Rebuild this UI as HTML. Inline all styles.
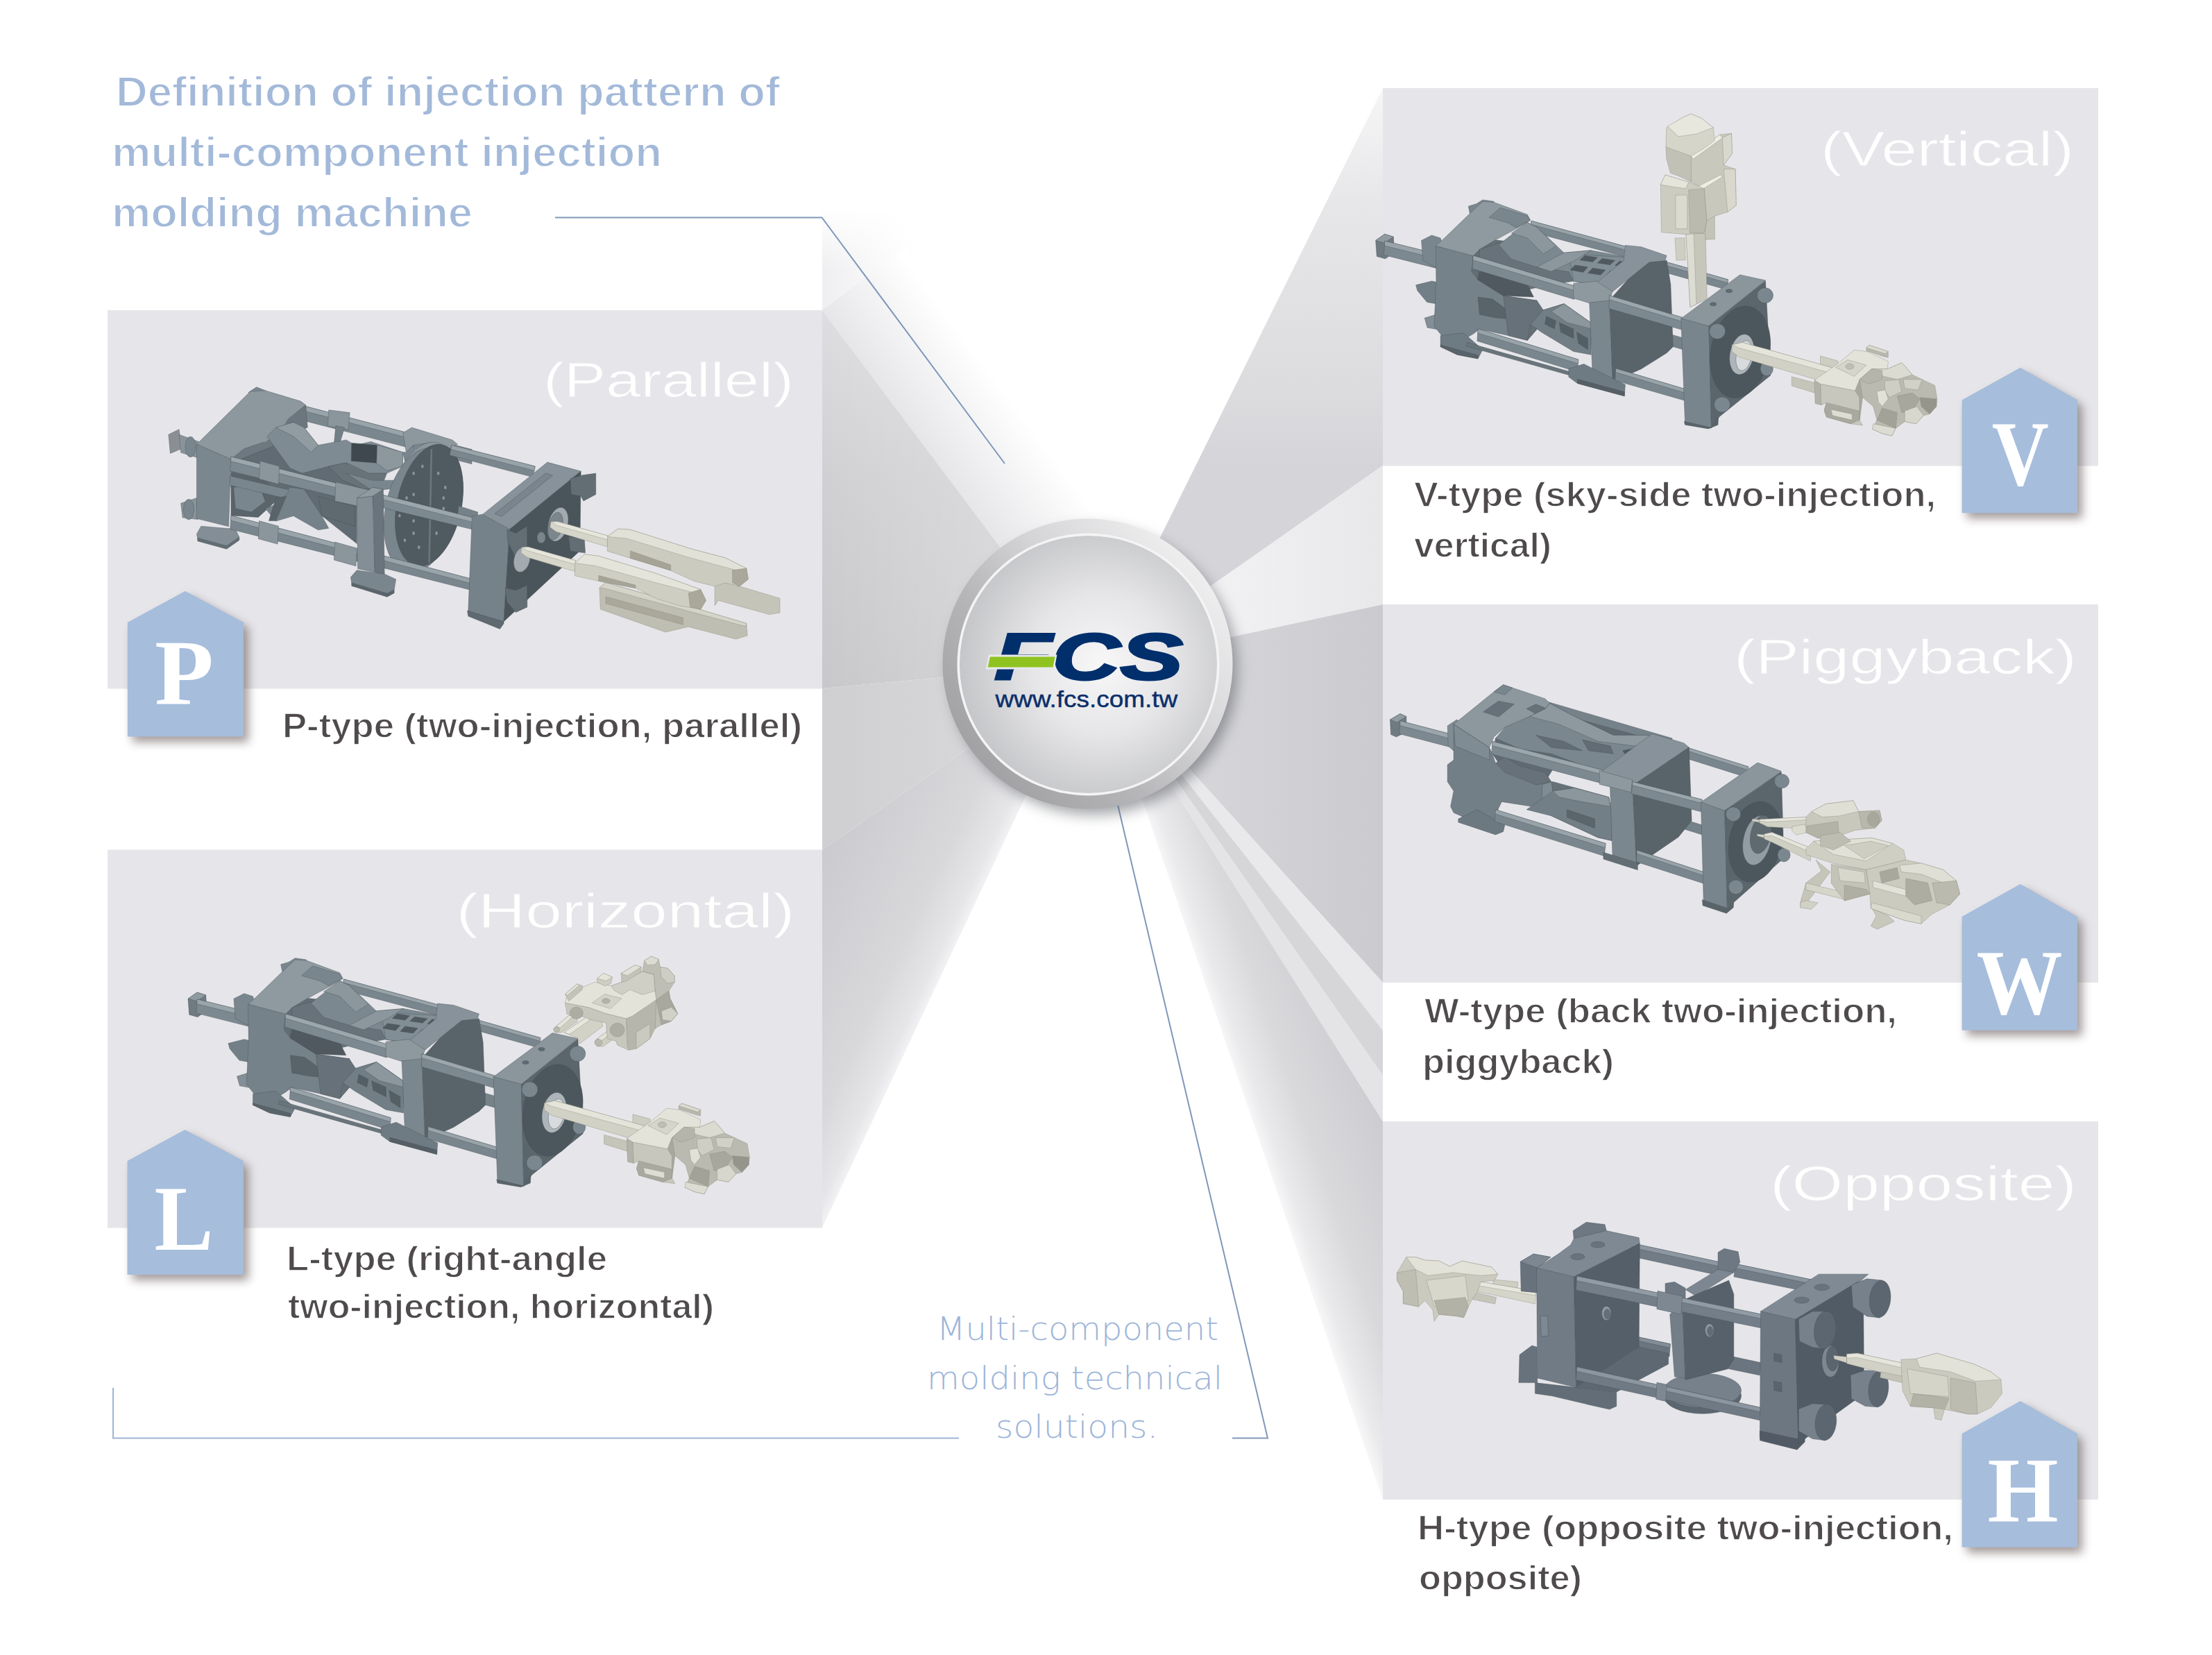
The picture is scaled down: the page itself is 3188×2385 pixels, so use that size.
<!DOCTYPE html>
<html lang="en"><head><meta charset="utf-8"><title>Definition of injection pattern of multi-component injection molding machine</title>
<style>
html,body{margin:0;padding:0;background:#fff}
body{width:3188px;height:2385px;overflow:hidden}
svg{display:block}
.sans{font-family:"Liberation Sans",sans-serif}
.serif{font-family:"Liberation Serif",serif}
.m polygon,.m ellipse{stroke:#465056;stroke-width:.8;stroke-opacity:.5;vector-effect:non-scaling-stroke;stroke-linejoin:round}
.m .c{stroke:#8a897c}
.m .nd{stroke:none}
.thin{font-family:"DejaVu Sans","Liberation Sans",sans-serif;font-weight:200}
</style></head><body>
<svg width="3188" height="2385" viewBox="0 0 3188 2385">
<defs>
<linearGradient id="wP0" x1="1185" y1="447" x2="1297" y2="363" gradientUnits="userSpaceOnUse">
 <stop offset="0" stop-color="#e6e6e9"/><stop offset="1" stop-color="#ffffff"/>
</linearGradient>
<linearGradient id="wP1" x1="1185" y1="0" x2="1320" y2="0" gradientUnits="userSpaceOnUse">
 <stop offset="0" stop-color="#efeff1"/><stop offset="1" stop-color="#ffffff"/>
</linearGradient>
<linearGradient id="wP1m" x1="0" y1="300" x2="0" y2="447" gradientUnits="userSpaceOnUse">
 <stop offset="0" stop-color="#fff" stop-opacity="1"/><stop offset="0.6" stop-color="#fff" stop-opacity="0"/>
</linearGradient>
<linearGradient id="wP" x1="1185" y1="447" x2="1185" y2="992" gradientUnits="userSpaceOnUse">
 <stop offset="0" stop-color="#dedee1"/><stop offset="0.45" stop-color="#d0d0d3"/><stop offset="1" stop-color="#c8c8cb"/>
</linearGradient>
<linearGradient id="liteL" x1="1185" y1="0" x2="1568" y2="0" gradientUnits="userSpaceOnUse">
 <stop offset="0" stop-color="#fff" stop-opacity="0"/><stop offset="1" stop-color="#fff" stop-opacity="0.35"/>
</linearGradient>
<linearGradient id="liteR" x1="1993" y1="0" x2="1580" y2="0" gradientUnits="userSpaceOnUse">
 <stop offset="0" stop-color="#fff" stop-opacity="0"/><stop offset="1" stop-color="#fff" stop-opacity="0.35"/>
</linearGradient>
<linearGradient id="wPL" x1="1185" y1="0" x2="1568" y2="0" gradientUnits="userSpaceOnUse">
 <stop offset="0" stop-color="#cfcfd2"/><stop offset="1" stop-color="#dddde0"/>
</linearGradient>
<linearGradient id="wL" x1="1185" y1="1225" x2="1395" y2="1324" gradientUnits="userSpaceOnUse">
 <stop offset="0" stop-color="#cbcbcf"/><stop offset="0.7" stop-color="#d8d8db"/><stop offset="0.93" stop-color="#e6e6e9"/><stop offset="1" stop-color="#f2f2f4"/>
</linearGradient>
<linearGradient id="wV" x1="1993" y1="127" x2="1993" y2="671" gradientUnits="userSpaceOnUse">
 <stop offset="0" stop-color="#f6f6f7"/><stop offset="0.3" stop-color="#e7e7e9"/><stop offset="0.8" stop-color="#dcdcdf"/><stop offset="1" stop-color="#d5d5d9"/>
</linearGradient>
<linearGradient id="wVW" x1="1580" y1="0" x2="1993" y2="0" gradientUnits="userSpaceOnUse">
 <stop offset="0" stop-color="#f8f8f9"/><stop offset="1" stop-color="#e8e8ea"/>
</linearGradient>
<linearGradient id="wW" x1="1580" y1="0" x2="1993" y2="0" gradientUnits="userSpaceOnUse">
 <stop offset="0" stop-color="#dcdcdf"/><stop offset="1" stop-color="#cbcbcf"/>
</linearGradient>
<linearGradient id="wWH" x1="1580" y1="0" x2="1993" y2="0" gradientUnits="userSpaceOnUse">
 <stop offset="0" stop-color="#f0f0f2"/><stop offset="1" stop-color="#dedee1"/>
</linearGradient>
<linearGradient id="wH" x1="1993" y1="1616" x2="1826" y2="1674" gradientUnits="userSpaceOnUse">
 <stop offset="0" stop-color="#cdcdd1"/><stop offset="0.6" stop-color="#d9d9dc"/><stop offset="0.9" stop-color="#eaeaec"/><stop offset="1" stop-color="#f6f6f7"/>
</linearGradient>
<linearGradient id="ringG" x1="0.1" y1="0.85" x2="0.9" y2="0.15">
 <stop offset="0" stop-color="#a0a0a2"/><stop offset="0.35" stop-color="#b6b6b8"/><stop offset="0.62" stop-color="#d4d4d6"/><stop offset="1" stop-color="#f0f0f1"/>
</linearGradient>
<radialGradient id="faceG" cx="0.55" cy="0.5" r="0.6">
 <stop offset="0" stop-color="#f7f7f8"/><stop offset="0.45" stop-color="#e6e6e8"/><stop offset="1" stop-color="#bfc0c3"/>
</radialGradient>
<filter id="sh" x="-30%" y="-30%" width="170%" height="170%">
 <feGaussianBlur in="SourceAlpha" stdDeviation="7"/><feOffset dx="7" dy="8"/><feComponentTransfer><feFuncA type="linear" slope="0.55"/></feComponentTransfer>
 <feFlood flood-color="#5a4a48" result="c"/><feComposite in="c" in2="SourceAlpha" operator="in"/>
</filter>
<filter id="shB" x="-30%" y="-30%" width="170%" height="170%">
 <feGaussianBlur stdDeviation="7"/>
</filter>
<filter id="shC" x="-30%" y="-30%" width="160%" height="160%">
 <feGaussianBlur stdDeviation="10"/>
</filter>
<!--CLAMPA-->
<g id="clampA" class="m" transform="translate(260,1360) scale(0.22963)">
<!-- ===== left frame ===== -->
<g>
<!-- top-left long bar + cap -->
<polygon points="48,345 105,305 160,322 165,420 108,460 55,445" fill="#6f7a82"/>
<polygon points="48,345 105,305 160,322 105,360" fill="#8f9aa1"/>
<polygon points="105,348 445,432 440,522 100,436" fill="#7d8990"/>
<polygon points="105,348 445,432 443,462 104,378" fill="#99a4ab"/>
<polygon points="335,345 400,312 455,330 470,380 440,520 395,500 345,470" fill="#7a868e"/>
<!-- small gadget -->
<polygon points="300,625 400,600 490,620 500,765 440,745 370,732 310,660" fill="#737f87"/>
<!-- lower-left nub -->
<polygon points="355,832 420,812 445,905 372,892" fill="#838e96"/>
<!-- back-top bar -->
<polygon points="1025,222 1829,440 1829,505 1020,290" fill="#7a868e"/>
<polygon points="1025,222 1829,440 1829,462 1024,245" fill="#97a2a9"/>
<!-- rear platen top nubs -->
<polygon points="630,130 680,115 720,90 790,100 800,150 700,200 640,180" fill="#7a868e"/>
<!-- rear platen top face -->
<polygon points="425,380 480,330 640,175 720,100 790,105 1000,182 1020,218 930,272 800,342 700,402 660,442" fill="#8e99a0"/>
<polygon points="760,200 830,140 1000,190 1015,220 930,265 880,235" fill="#7a868e"/>
<!-- rear platen front face -->
<polygon points="425,380 660,442 650,540 690,592 850,692 1060,722 1075,800 1060,902 1000,972 880,942 700,902 660,932 560,992 470,952 415,882 428,600" fill="#76828a"/>
<polygon points="660,442 700,402 800,342 870,350 800,420 720,470 700,540 690,592 650,540" fill="#626d74"/>
<polygon points="690,700 780,712 900,800 910,840 800,830 700,810" fill="#59636a"/>
<polygon points="960,730 1060,722 1075,800 1060,902 1000,972 965,900" fill="#646f77"/>
<!-- foot block -->
<polygon points="455,942 600,925 720,1030 690,1087 560,1062 455,1012" fill="#6f7b83"/>
<polygon points="455,1000 690,1065 690,1087 560,1062 455,1012" fill="#59636a"/>
<!-- fillers -->
<polygon points="700,400 870,350 1000,235 1130,350 1200,430 1400,410 1440,620 1290,600 1060,640 850,692 690,592" fill="#67727a"/>
<polygon points="850,692 1060,722 1100,782 1230,742 1400,862 1400,1000 1290,1040 1020,872 1000,972 880,942" fill="#66717a"/>
<!-- upper toggle -->
<polygon points="820,372 1000,232 1060,262 1230,422 1400,407 1640,452 1700,482 1560,562 1440,622 1290,602 1260,542 1060,512 900,462" fill="#7c8890"/>
<polygon points="900,300 1000,232 1060,262 1180,380 1100,430 1000,330" fill="#8b969d"/>
<polygon points="1260,430 1640,452 1700,482 1560,562 1440,622 1290,602" fill="#828e96"/>
<g fill="#4f595f">
<polygon points="1360,440 1440,452 1410,480 1330,468"/>
<polygon points="1470,458 1550,470 1520,498 1440,486"/>
<polygon points="1580,474 1650,484 1620,512 1550,502"/>
<polygon points="1300,500 1380,512 1350,545 1270,530"/>
<polygon points="1410,518 1490,530 1460,562 1380,550"/>
<polygon points="1520,536 1590,546 1560,575 1490,566"/>
</g>
<polygon points="1060,512 1230,422 1400,407 1300,470 1150,540" fill="#8b969d"/>
<!-- mid dark cavity -->
<polygon points="700,540 900,560 1000,620 1040,700 850,692 690,592" fill="#4f595f"/>
<!-- lower toggle -->
<polygon points="1020,872 1100,782 1230,742 1400,862 1400,1062 1290,1042 1090,922" fill="#727e86"/>
<polygon points="1150,790 1230,742 1400,862 1400,900 1250,860" fill="#8b969d"/>
<g fill="#545e65">
<polygon points="1200,860 1290,900 1290,960 1210,920"/>
<polygon points="1310,920 1380,960 1380,1030 1320,990"/>
<polygon points="1120,820 1180,850 1170,900 1110,870"/>
</g>
<!-- thin rail -->
<polygon points="620,985 1300,1178 1295,1200 616,1008" fill="#69747b"/>
<!-- front-bottom bar -->
<polygon points="690,900 1320,1092 1315,1170 685,976" fill="#7a868d"/>
<polygon points="690,900 1320,1092 1318,1118 689,926" fill="#98a3aa"/>
<!-- front-top bar -->
<polygon points="660,440 1300,632 1295,715 655,522" fill="#7d8990"/>
<polygon points="660,440 1300,632 1298,660 659,468" fill="#9ba6ad"/>
</g>
<!-- ===== middle frame ===== -->
<g transform="translate(914.6,0)">
<!-- back-top bar right part -->
<polygon points="905,465 1345,590 1340,655 900,532" fill="#7a868e"/>
<polygon points="905,465 1345,590 1344,612 904,488" fill="#97a2a9"/>
<!-- back-bottom bar -->
<polygon points="935,920 1075,960 1070,1032 930,992" fill="#76828a"/>
<!-- moving platen -->
<polygon points="600,720 720,585 850,480 960,470 985,620 1000,1012 960,1052 800,1152 620,1232" fill="#59636a"/>
<polygon points="520,610 690,470 700,375 800,385 960,440 950,472 850,482 720,587 620,667" fill="#87929a"/>
<polygon points="375,615 520,600 620,665 600,732 470,737 375,707" fill="#8d989f"/>
<polygon points="475,735 600,722 620,1232 495,1196" fill="#7b878f"/>
<polygon points="345,1150 440,1120 700,1250 695,1322 400,1242 345,1202" fill="#6f7b83"/>
<polygon points="400,1215 695,1295 695,1322 400,1242" fill="#565f66"/>
<!-- front-top bar right part -->
<polygon points="600,690 1065,830 1060,907 598,772" fill="#7d8990"/>
<polygon points="600,690 1065,830 1064,856 600,716" fill="#9ba6ad"/>
<!-- front-bottom bar right part -->
<polygon points="640,1148 1085,1280 1080,1352 636,1224" fill="#7a868d"/>
<polygon points="640,1148 1085,1280 1084,1304 640,1172" fill="#98a3aa"/>
<!-- stationary platen -->
<polygon points="1050,835 1420,560 1580,595 1225,882" fill="#8a959c"/>
<polygon points="1050,835 1225,882 1240,1522 1075,1482" fill="#79858d"/>
<polygon points="1225,882 1580,598 1612,1192 1290,1452 1240,1522" fill="#5b656c"/>
<polygon points="1070,1480 1240,1520 1285,1452 1282,1502 1222,1527 1075,1502" fill="#59636a"/>
<ellipse cx="1352" cy="662" rx="20" ry="11" fill="#5e6970"/>
<ellipse cx="1252" cy="745" rx="20" ry="11" fill="#5e6970"/>
<ellipse cx="1422" cy="1045" rx="185" ry="292" transform="rotate(11 1422 1045)" fill="#4c565d"/>
<ellipse cx="1432" cy="1060" rx="75" ry="128" transform="rotate(11 1432 1060)" fill="#aeb5ba"/>
<ellipse cx="1445" cy="1068" rx="48" ry="95" transform="rotate(11 1445 1068)" fill="#d8dbdd"/>
<ellipse cx="1278" cy="915" rx="50" ry="48" fill="#7b878f"/>
<ellipse cx="1578" cy="690" rx="50" ry="48" fill="#7b878f"/>
<ellipse cx="1308" cy="1375" rx="50" ry="48" fill="#7b878f"/>
<ellipse cx="1588" cy="1150" rx="40" ry="45" fill="#7b878f"/>
</g>
</g>
<g id="injH" class="m">
<g transform="translate(260,1360) scale(0.22963) translate(1829.2,0)">
<polygon points="455,1000 520,985 1110,1150 1100,1252 500,1077 455,1042" fill="#d2d1c5" class="c"/>
<polygon points="455,1000 520,985 1110,1150 1105,1185 500,1020" fill="#e5e4da" class="c"/>
<polygon points="830,1200 980,1240 975,1302 830,1257" fill="#c6c5b9" class="c"/>
<polygon points="1010,1070 1120,1100 1115,1152 1010,1122" fill="#cecdc1" class="c"/>
</g>
<g transform="translate(860,1570) scale(0.1085)">
<!-- right assemblage -->
<polygon points="1000,640 1160,500 1370,500 1560,420 1600,460 1700,580 1830,640 2000,720 2030,900 2020,1000 1930,1100 1850,1120 1750,1230 1600,1200 1480,1290 1430,1390 1300,1360 1170,1300 1230,1180 1180,1000 1040,880 1000,880" fill="#bbbab0" class="c"/>
<polygon points="1160,500 1370,500 1560,420 1600,460 1700,580 1500,640 1320,600" fill="#dcdbd1" class="c"/>
<polygon points="1330,660 1520,640 1560,800 1400,880 1340,800" fill="#cfcec4" class="c"/>
<polygon points="1230,800 1340,780 1380,900 1300,1000 1250,940" fill="#e2e1d7" class="c"/>
<polygon points="1180,1230 1480,1290 1430,1390 1300,1360 1170,1300" fill="#dddcd2" class="c"/>
<polygon points="1580,640 1830,640 1780,780 1600,760" fill="#d2d1c7" class="c"/>
<polygon points="1800,880 2020,900 2020,1000 1930,1100 1820,1000" fill="#96958c" class="c"/>
<polygon points="1500,860 1700,820 1800,900 1700,1060 1560,1080" fill="#a8a79d" class="c"/>
<polygon points="1600,1060 1760,1000 1850,1120 1750,1230 1600,1200" fill="#d8d7cd" class="c"/>
<polygon points="1300,1020 1500,1080 1480,1290 1230,1180" fill="#a3a298" class="c"/>
<!-- top-back box -->
<polygon points="1090,220 1130,185 1380,270 1380,350 1330,340 1090,260" fill="#b9b8ae" class="c"/>
<polygon points="1090,220 1130,185 1380,270 1340,300" fill="#dad9cf" class="c"/>
<!-- main block -->
<polygon points="400,650 480,700 490,980 410,960" fill="#b4b3a9" class="c"/>
<polygon points="480,700 940,790 1000,880 1000,1180 1040,1250 880,1230 560,1140 530,1050 560,950 490,980" fill="#c8c7bd" class="c"/>
<polygon points="560,950 1000,1060 1000,1180 880,1230 560,1140 530,1050" fill="#aaa99f" class="c"/>
<polygon points="620,1040 900,1100 900,1180 640,1120" fill="#deddd3" class="c"/>
<polygon points="940,790 1000,640 1040,880 1000,1180 1000,880" fill="#a9a89e" class="c"/>
<polygon points="400,650 700,440 930,250 1100,270 1380,400 1370,500 1160,500 1000,640 940,790 480,700" fill="#e4e3d9" class="c"/>
<polygon points="680,480 840,380 1090,450 930,600" fill="#d6d5cb" class="c"/>
<ellipse cx="870" cy="468" rx="55" ry="38" fill="#bfbeb4" class="c"/>
<polygon points="1000,640 1160,500 1300,520 1300,640 1120,700" fill="#b6b5ab" class="c"/>
</g>
</g>
<!--/CLAMPA-->

</defs>
<rect width="3188" height="2385" fill="#fff"/>
<!-- middle band -->
<g id="mid">
<rect x="1185" y="300" width="135" height="147" fill="url(#wP1)"/>
<rect x="1185" y="300" width="135" height="147" fill="url(#wP1m)"/>
<polygon points="1185,447 1305,357 1688,867 1568,957" fill="url(#wP0)"/>
<polygon points="1185,447 1185,992 1568,957" fill="url(#wP)"/>
<polygon points="1185,447 1185,992 1568,957" fill="url(#liteL)"/>
<polygon points="1185,992 1185,1225 1568,957" fill="url(#wPL)"/>
<polygon points="1185,1225 1185,1769 1568,957" fill="url(#wL)"/>
<polygon points="1993,127 1993,671 1580,960" fill="url(#wV)"/>
<polygon points="1993,671 1993,871 1580,960" fill="url(#wVW)"/>
<polygon points="1993,871 1993,1416 1580,960" fill="url(#wW)"/>
<polygon points="1993,1416 1993,1485 1580,960" fill="#e9e9eb"/>
<polygon points="1993,1485 1993,1550 1580,960" fill="#d6d6d9"/>
<polygon points="1993,1550 1993,1616 1580,960" fill="#e4e4e7"/>
<polygon points="1993,1616 1993,2161 1580,960" fill="url(#wH)"/>
</g>
<!-- panels -->
<g fill="#e6e6ea">
<rect x="155" y="447" width="1030" height="545.5"/>
<rect x="155" y="1224.5" width="1030" height="545"/>
<rect x="1993" y="127" width="1031" height="544.5"/>
<rect x="1993" y="871" width="1031" height="545"/>
<rect x="1993" y="1616" width="1031" height="545"/>
</g>

<g id="mP" class="m" transform="translate(220,540) scale(0.25373)">
<!-- ===== PL frame ===== -->
<g>
<!-- left bar ends -->
<polygon points="90,340 150,310 165,420 100,447" fill="#8a8f94"/>
<polygon points="150,340 262,380 257,472 160,442" fill="#88939a"/>
<ellipse cx="215" cy="410" rx="30" ry="58" fill="#7a868e"/>
<polygon points="160,730 250,700 257,822 170,812" fill="#88939a"/>
<ellipse cx="205" cy="765" rx="30" ry="58" fill="#7a868e"/>
<polygon points="545,100 590,70 640,90 600,192 555,172" fill="#7a868e"/>
<!-- back-top bar -->
<polygon points="825,168 1813,425 1813,507 815,250" fill="#7b878e"/>
<polygon points="825,168 1813,425 1813,452 822,196" fill="#98a3aa"/>
<polygon points="1000,200 1120,215 1112,312 995,292" fill="#8a959c"/>
<polygon points="1040,290 1090,300 1060,400 1030,395" fill="#737f87"/>
<!-- rear platen -->
<polygon points="250,395 555,95 640,90 840,150 870,172 770,252 700,342 450,482" fill="#8c979e"/>
<polygon points="770,252 870,172 880,300 800,330 720,330" fill="#6b767e"/>
<polygon points="250,395 445,480 432,862 250,817" fill="#7b878f"/>
<polygon points="445,480 520,420 640,380 700,342 700,420 560,470 480,540 445,640" fill="#6d7880"/>
<polygon points="250,905 275,860 470,877 492,922 420,972 255,927" fill="#838e96"/>
<polygon points="255,927 420,972 492,922 492,940 420,990 255,945" fill="#626d74"/>
<!-- filler -->
<polygon points="450,500 700,400 900,460 1100,500 1300,640 1160,700 1160,960 960,800 790,640 640,760 450,780" fill="#606b73"/>
<!-- inner dark -->
<polygon points="445,560 640,600 720,700 600,810 445,800" fill="#5a646b"/>
<polygon points="460,640 600,610 640,720 560,780 470,760" fill="#7a868e"/>
<!-- mid thin bar -->
<polygon points="440,575 800,660 795,712 438,627" fill="#7a868e"/>
<!-- upper toggle -->
<polygon points="650,350 700,300 800,270 860,300 940,400 1100,370 1150,400 1240,380 1420,440 1420,520 1330,560 1230,560 1100,500 1000,520 850,560 780,530 700,420" fill="#7f8b93"/>
<polygon points="700,300 800,270 860,300 940,400 900,440 800,350" fill="#909ba2"/>
<polygon points="1130,388 1275,400 1272,502 1128,490" fill="#3f484e"/>
<polygon points="1275,400 1420,440 1420,520 1330,545 1272,502" fill="#8c979e"/>
<polygon points="1000,520 1100,500 1230,560 1330,560 1300,640 1200,650 1080,600" fill="#687379"/>
<!-- lower toggle -->
<polygon points="640,760 720,730 790,640 860,650 960,800 1000,872 940,882 800,802 700,832" fill="#76828a"/>
<polygon points="940,690 1150,750 1150,862 960,802" fill="#5e6970"/>
<polygon points="700,700 760,690 700,830 660,830" fill="#59636a"/>
<!-- turntable back platen top -->
<polygon points="1422,330 1472,300 1702,370 1732,395 1682,420 1582,385 1482,400 1440,440" fill="#8c979e"/>
<polygon points="1100,560 1250,600 1400,600 1440,520 1420,440 1440,440 1482,400 1500,520 1420,640 1250,660" fill="#7a868e"/>
</g>
<!-- ===== PM frame ===== -->
<g transform="translate(1182.4,0)">
<!-- turntable -->
<ellipse cx="355" cy="745" rx="195" ry="368" transform="rotate(12 355 745)" fill="#8a959c"/>
<ellipse cx="352" cy="760" rx="190" ry="350" transform="rotate(12 352 760)" fill="#5f6a71"/>
<ellipse cx="388" cy="742" rx="183" ry="352" transform="rotate(12 388 742)" fill="#505a61"/>
<ellipse cx="340" cy="770" rx="200" ry="360" transform="rotate(12 340 770)" fill="#7a868e"/>
<ellipse cx="388" cy="742" rx="183" ry="352" transform="rotate(12 388 742)" fill="#505a61"/>
<polygon points="395,420 408,422 395,1070 382,1068" fill="#6b767e"/>
<ellipse cx="300" cy="560" rx="7" ry="10" fill="#8a959c" class="nd"/>
<ellipse cx="350" cy="520" rx="7" ry="10" fill="#8a959c" class="nd"/>
<ellipse cx="440" cy="560" rx="7" ry="10" fill="#8a959c" class="nd"/>
<ellipse cx="480" cy="640" rx="7" ry="10" fill="#8a959c" class="nd"/>
<ellipse cx="300" cy="680" rx="7" ry="10" fill="#8a959c" class="nd"/>
<ellipse cx="300" cy="830" rx="7" ry="10" fill="#8a959c" class="nd"/>
<ellipse cx="300" cy="900" rx="7" ry="10" fill="#8a959c" class="nd"/>
<ellipse cx="470" cy="700" rx="7" ry="10" fill="#8a959c" class="nd"/>
<ellipse cx="470" cy="760" rx="7" ry="10" fill="#8a959c" class="nd"/>
<ellipse cx="250" cy="940" rx="7" ry="10" fill="#8a959c" class="nd"/>
<ellipse cx="330" cy="980" rx="7" ry="10" fill="#8a959c" class="nd"/>
<ellipse cx="430" cy="900" rx="7" ry="10" fill="#8a959c" class="nd"/>
<ellipse cx="500" cy="830" rx="7" ry="10" fill="#8a959c" class="nd"/>
<ellipse cx="220" cy="800" rx="7" ry="10" fill="#8a959c" class="nd"/>
<ellipse cx="260" cy="700" rx="7" ry="10" fill="#8a959c" class="nd"/>

<!-- back bars right -->
<polygon points="515,400 990,520 978,582 505,457" fill="#7b878e"/>
<polygon points="515,400 990,520 986,545 512,424" fill="#98a3aa"/>
<polygon points="555,745 665,780 660,832 550,802" fill="#76828a"/>
</g>
<g>
<!-- front-top bar full -->
<polygon points="445,465 1832,815 1822,880 440,547" fill="#7d8990"/>
<polygon points="445,465 1832,815 1830,840 444,492" fill="#9ba6ad"/>
<polygon points="610,490 720,520 715,622 605,592" fill="#8a959c"/>
<polygon points="1040,610 1250,660 1240,762 1035,717" fill="#8a959c"/>
<!-- front-bottom bar full -->
<polygon points="445,800 1812,1160 1802,1222 440,877" fill="#7a868d"/>
<polygon points="445,800 1812,1160 1810,1186 444,828" fill="#98a3aa"/>
<polygon points="605,830 715,860 710,962 600,932" fill="#8a959c"/>
<polygon points="1035,950 1160,985 1155,1087 1030,1052" fill="#8a959c"/>
<!-- moving platen column -->
<polygon points="1160,700 1250,690 1262,1122 1165,1102" fill="#838e96"/>
<polygon points="1250,640 1310,650 1317,1142 1262,1122" fill="#69747c"/>
<polygon points="1160,700 1250,640 1310,650 1250,690" fill="#8f9aa1"/>
<polygon points="1125,1150 1160,1110 1317,1132 1382,1162 1372,1222 1332,1242 1130,1182" fill="#7a868e"/>
<polygon points="1130,1182 1332,1242 1372,1222 1372,1240 1332,1262 1130,1200" fill="#59636a"/>
</g>
<g transform="translate(1182.4,0)">
<!-- stationary platen -->
<polygon points="690,795 1060,497 1250,548 845,878" fill="#87929a"/>
<polygon points="760,790 1050,560 1090,572 800,805" fill="#7a858d"/>
<polygon points="632,803 690,793 845,878 812,1402 610,1345" fill="#76828a"/>
<polygon points="605,1340 812,1402 812,1414 790,1444 610,1372" fill="#5e6970"/>
<polygon points="845,878 1250,548 1245,1000 812,1402" fill="#4a545b"/>
<polygon points="1190,590 1260,570 1335,560 1335,680 1265,717 1250,690 1195,680" fill="#626d74"/>
<polygon points="830,880 880,900 945,860 945,1000 880,1040 835,950" fill="#626d74"/>
<polygon points="1180,920 1270,930 1275,1012 1190,1002" fill="#626d74"/>
<polygon points="820,1210 880,1225 945,1195 945,1320 880,1350 830,1290" fill="#626d74"/>
<ellipse cx="1120" cy="850" rx="55" ry="98" transform="rotate(14 1120 850)" fill="#a3abb0"/>
<ellipse cx="1105" cy="860" rx="40" ry="80" transform="rotate(14 1105 860)" fill="#7c868d"/>
<ellipse cx="915" cy="1050" rx="45" ry="72" transform="rotate(14 915 1050)" fill="#a3abb0"/>
<ellipse cx="1025" cy="925" rx="24" ry="32" fill="#79858c"/>
<!-- rods -->
<polygon points="1080,835 1120,835 1405,915 1400,977 1110,892 1075,866" fill="#d6d5c9" class="c"/>
<polygon points="1080,835 1120,835 1405,915 1403,938 1112,856" fill="#e7e6dc" class="c"/>
<polygon points="915,980 950,978 1220,1055 1215,1117 945,1037 910,1011" fill="#d6d5c9" class="c"/>
<polygon points="915,980 950,978 1220,1055 1218,1078 947,1000" fill="#e7e6dc" class="c"/>
</g>
<!-- ===== PR frame ===== -->
<g transform="translate(1813,0)">
<polygon points="1380,1190 1450,1180 1750,1270 1750,1352 1690,1362 1400,1282 1380,1312" fill="#c5c4b8" class="c"/>
<polygon points="770,920 830,875 900,880 1250,990 1440,1040 1560,1100 1570,1162 1520,1202 1440,1182 1380,1202 1260,1172 1130,1112 900,1042 770,1002" fill="#cccbbf" class="c"/>
<polygon points="770,920 830,875 900,880 1250,990 1440,1040 1560,1100 1500,1110 1240,1040 880,930" fill="#e2e1d7" class="c"/>
<polygon points="900,1000 1130,1080 1130,1112 900,1042" fill="#a5a497" class="c"/>
<polygon points="1480,1110 1560,1100 1570,1162 1520,1202 1480,1180" fill="#a9a89b" class="c"/>
<polygon points="725,1210 760,1180 1250,1320 1560,1412 1565,1482 1500,1502 1230,1432 1100,1462 730,1332" fill="#bfbeb2" class="c"/>
<polygon points="725,1210 760,1180 1250,1320 1560,1412 1555,1430 1240,1345 760,1215" fill="#d5d4c9" class="c"/>
<polygon points="760,1260 1200,1380 1200,1420 760,1300" fill="#a9a89b" class="c"/>
<polygon points="585,1070 640,1020 720,1030 1050,1130 1300,1220 1330,1282 1300,1332 1180,1312 1050,1272 930,1212 720,1172 585,1142" fill="#cfcec2" class="c"/>
<polygon points="585,1070 640,1020 720,1030 1050,1130 1300,1220 1250,1235 1040,1180 700,1085" fill="#e5e4da" class="c"/>
<polygon points="720,1140 930,1195 930,1212 720,1172" fill="#a5a497" class="c"/>
<polygon points="1230,1240 1300,1220 1330,1282 1300,1332 1240,1320" fill="#a9a89b" class="c"/>
</g>
</g>
<use href="#clampA"/>
<use href="#injH"/>
<g id="mLtop" class="m" transform="translate(790,1370) scale(0.09062)">
<!-- far-right motor assembly -->
<polygon points="1500,330 1530,160 1640,90 1760,140 1780,260 1900,280 2010,400 2010,500 1920,640 1940,760 2060,1000 1960,1120 1800,1180 1700,1240 1720,780 1700,640 1680,380" fill="#bfbeb4" class="c"/>
<polygon points="1530,160 1640,90 1760,140 1700,220 1580,230" fill="#dddcd2" class="c"/>
<polygon points="1780,260 1900,280 2010,400 2010,500 1900,520 1800,420" fill="#cfcec4" class="c"/>
<polygon points="1720,780 1920,640 1940,760 2060,1000 1960,1120 1800,1180" fill="#a9a89e" class="c"/>
<polygon points="1800,960 1960,900 2060,1000 1960,1120 1820,1100" fill="#d2d1c7" class="c"/>
<!-- rods -->
<polygon points="90,1240 130,1200 330,1030 450,1050 470,1122 210,1302 110,1302" fill="#cfcec2" class="c"/>
<polygon points="130,1200 330,1030 400,1040 190,1230" fill="#e5e4da" class="c"/>
<ellipse cx="135" cy="1255" rx="50" ry="42" fill="#bab9af" class="c"/>
<polygon points="250,1300 640,1040 820,1060 872,1200 500,1482 470,1390" fill="#d3d2c6" class="c"/>
<polygon points="250,1300 640,1040 740,1050 340,1330" fill="#e8e7dd" class="c"/>
<polygon points="740,1440 780,1400 1010,1230 1120,1260 1132,1332 880,1522 780,1522" fill="#cfcec2" class="c"/>
<polygon points="780,1400 1010,1230 1080,1250 850,1430" fill="#e5e4da" class="c"/>
<ellipse cx="800" cy="1462" rx="60" ry="55" fill="#bab9af" class="c"/>
<!-- body -->
<polygon points="1240,1080 1340,1040 1720,780 1700,1240 1620,1400 1400,1560 1280,1582 1260,1500" fill="#b7b6ac" class="c"/>
<polygon points="1400,1300 1620,1160 1620,1400 1400,1560" fill="#cbcac0" class="c"/>
<polygon points="270,830 640,900 920,1000 1240,1080 1260,1500 1280,1582 1100,1502 1080,1440 940,1400 920,1150 640,1090 600,1060 300,1010" fill="#c8c7bd" class="c"/>
<ellipse cx="450" cy="990" rx="105" ry="95" fill="#aeada3" class="c"/>
<ellipse cx="1100" cy="1260" rx="115" ry="110" fill="#aeada3" class="c"/>
<polygon points="270,830 300,690 740,500 1000,560 1170,500 1500,330 1680,380 1700,640 1720,780 1340,1040 1240,1080 920,1000 640,900" fill="#e4e3d9" class="c"/>
<polygon points="700,830 900,690 1170,760 990,922" fill="#d4d3c9" class="c"/>
<ellipse cx="920" cy="800" rx="65" ry="40" fill="#b4b3a9" class="c"/>
<polygon points="1000,560 1170,500 1500,330 1680,380 1700,640 1500,700 1300,620 1180,700 1060,640" fill="#d0cfc5" class="c"/>
<polygon points="270,690 460,530 550,560 540,622 330,802" fill="#c4c3b9" class="c"/>
<polygon points="270,690 460,530 500,545 310,710" fill="#e2e1d7" class="c"/>
<polygon points="780,440 880,360 1020,420 1000,520 900,562 780,500" fill="#cfcec4" class="c"/>
<polygon points="780,440 880,360 1020,420 920,480" fill="#e6e5db" class="c"/>
<polygon points="1160,360 1380,230 1480,260 1480,332 1250,482 1170,500" fill="#c4c3b9" class="c"/>
<polygon points="1160,360 1380,230 1480,260 1260,400" fill="#e2e1d7" class="c"/>
</g>
<use href="#clampA" transform="translate(1711.6,-1092.7)"/>
<use href="#injH" transform="translate(1711.6,-1092.7)"/>
<g id="mVtop" class="m" transform="translate(2340,150) scale(0.18729)">
<polygon points="480,1000 630,995 642,1500 512,1562" fill="#c6c6bb" class="c"/>
<polygon points="480,1000 540,998 560,1540 512,1562" fill="#dcdcd2" class="c"/>
<polygon points="395,1030 470,1030 476,1200 405,1202" fill="#cfcec3" class="c"/>
<polygon points="625,860 700,860 702,1040 630,1042" fill="#c4c3b8" class="c"/>
<polygon points="510,400 740,235 830,225 836,380 770,470 860,500 866,780 800,830 700,862 630,902 620,650 520,600" fill="#c9c8bc" class="c"/>
<polygon points="510,400 740,235 760,260 540,420" fill="#eeede4" class="c"/>
<polygon points="560,640 745,545 760,560 600,660" fill="#eeede4" class="c"/>
<polygon points="760,260 830,225 836,380 770,470" fill="#d9d8cd" class="c"/>
<polygon points="770,500 860,500 866,780 800,830" fill="#d9d8cd" class="c"/>
<polygon points="330,180 460,100 520,75 600,110 690,180 700,280 620,340 520,400 400,380 325,330" fill="#d6d5ca" class="c"/>
<polygon points="340,170 460,100 520,75 600,110 690,180 560,230 420,250" fill="#e8e7de" class="c"/>
<polygon points="325,330 520,400 520,600 440,560 360,530 330,420" fill="#c2c1b6" class="c"/>
<polygon points="285,620 320,545 500,600 620,650 640,900 620,992 470,1002 290,986" fill="#cdccc0" class="c"/>
<polygon points="285,620 320,545 500,600 480,650 400,640" fill="#e6e5db" class="c"/>
<polygon points="400,700 490,700 490,960 400,960" fill="#dbdacf" class="c"/>
<polygon points="500,660 620,650 640,900 620,992 510,990" fill="#bbbaae" class="c"/>
</g>
<g id="mW" class="m" transform="translate(1990,970) scale(0.37975)">
<!-- back-top bar visible part -->
<polygon points="1140,275 1395,355 1390,396 1135,316" fill="#7a868e"/>
<polygon points="1140,275 1395,355 1394,368 1140,288" fill="#97a2a9"/>
<polygon points="1150,555 1225,578 1222,614 1148,591" fill="#76828a"/>
<g transform="scale(0.5886)">
<!-- left bar -->
<polygon points="60,300 125,262 165,280 165,380 100,412 65,396" fill="#6f7a82"/>
<polygon points="60,300 125,262 165,280 105,318" fill="#8f9aa1"/>
<polygon points="125,308 470,398 465,482 120,392" fill="#7d8990"/>
<polygon points="125,308 470,398 468,428 124,338" fill="#9aa5ac"/>
<polygon points="430,340 490,300 522,320 522,470 470,502 435,470" fill="#808c94"/>
<!-- back-top bar behind toggles -->
<polygon points="1060,180 1879,420 1879,480 1055,245" fill="#76828a"/>
<!-- rear platen top -->
<polygon points="470,330 520,290 730,120 790,75 850,95 1060,165 1090,195 1060,230 960,280 800,350 730,410 700,480" fill="#8c979e"/>
<polygon points="660,250 760,180 860,200 760,282" fill="#66717a"/>
<polygon points="940,230 1000,200 1060,225 1000,262" fill="#66717a"/>
<polygon points="730,120 790,75 850,95 800,140" fill="#7a868e"/>
<!-- filler behind toggles -->
<polygon points="740,420 960,280 1250,290 1720,420 1879,470 1879,560 1700,620 1420,700 1110,620 1060,700 800,640 720,520" fill="#5f6a72"/>
<polygon points="1000,720 1110,700 1470,800 1490,900 1490,1080 1400,1060 1100,920 1040,870 1100,830" fill="#66717a"/>
<!-- rear platen front -->
<polygon points="470,330 700,480 720,520 740,580 800,640 1000,720 1100,700 1110,770 1100,830 1040,870 780,830 760,870 720,990 650,990 560,940 470,900 450,860 470,760 430,700 430,590 470,560" fill="#737f87"/>
<polygon points="470,330 700,480 700,560 480,470" fill="#808c94"/>
<polygon points="740,580 800,640 1000,720 1100,700 1060,640 900,600 800,540" fill="#66717a"/>
<polygon points="1040,720 1100,700 1110,770 1100,830 1040,870" fill="#808c94"/>
<polygon points="500,940 620,880 800,980 790,1022 740,1042 500,962" fill="#6d7981"/>
<!-- upper toggle -->
<polygon points="800,350 960,280 1060,230 1090,195 1250,280 1500,400 1720,400 1800,440 1879,460 1879,560 1700,620 1520,600 1420,640 1100,520 900,490 740,420" fill="#7b878f"/>
<polygon points="960,280 1060,230 1090,195 1250,280 1500,400 1720,400 1800,440 1640,470 1400,440 1150,330" fill="#8d989f"/>
<polygon points="1560,500 1700,470 1730,520 1600,560" fill="#4f595f"/>
<polygon points="1000,400 1180,440 1300,500 1100,480" fill="#616c74"/>
<polygon points="1300,430 1480,470 1500,520 1340,500" fill="#616c74"/>
<!-- lower toggle -->
<polygon points="940,880 1110,760 1250,740 1470,800 1490,900 1490,1080 1400,1060 1100,920" fill="#737f87"/>
<polygon points="1110,760 1250,740 1470,800 1480,860 1300,830 1150,800" fill="#8b969d"/>
<polygon points="1200,880 1380,940 1380,1000 1200,930" fill="#5b656c"/>
<!-- front-bottom bar -->
<polygon points="740,880 1450,1098 1442,1180 735,957" fill="#7a868d"/>
<polygon points="740,880 1450,1098 1447,1126 738,908" fill="#98a3aa"/>
<!-- front-top bar -->
<polygon points="720,440 1640,680 1632,766 715,522" fill="#7d8990"/>
<polygon points="720,440 1640,680 1637,708 718,468" fill="#9ba6ad"/>
</g>
<!-- moving platen -->
<polygon points="835,375 1030,230 1150,265 1170,282 955,427" fill="#87929a"/>
<polygon points="955,427 1170,282 1180,560 1130,622 970,732" fill="#59636a"/>
<polygon points="870,425 955,427 970,732 880,702" fill="#7b878f"/>
<polygon points="830,370 955,405 950,452 830,422" fill="#8d989f"/>
<polygon points="845,680 975,720 975,747 845,706" fill="#626d74"/>
<!-- bars over platen -->
<polygon points="955,412 1220,480 1215,526 952,458" fill="#7d8990"/>
<polygon points="955,412 1220,480 1219,494 955,426" fill="#9ba6ad"/>
<polygon points="972,672 1235,758 1230,800 970,716" fill="#7a868d"/>
<polygon points="972,672 1235,758 1234,771 972,685" fill="#98a3aa"/>
<!-- stationary platen -->
<polygon points="1215,490 1430,340 1520,372 1305,522" fill="#8a959c"/>
<polygon points="1215,490 1305,522 1315,892 1225,862" fill="#79858d"/>
<polygon points="1305,522 1520,374 1530,702 1315,892" fill="#5b656c"/>
<ellipse cx="1422" cy="640" rx="100" ry="155" transform="rotate(12 1422 640)" fill="#4c565d"/>
<ellipse cx="1428" cy="635" rx="52" ry="95" transform="rotate(12 1428 635)" fill="#929ca3"/>
<ellipse cx="1442" cy="612" rx="38" ry="74" transform="rotate(12 1442 612)" fill="#5f6970"/>
<ellipse cx="1338" cy="535" rx="28" ry="27" fill="#7b878f"/>
<ellipse cx="1522" cy="410" rx="28" ry="27" fill="#7b878f"/>
<ellipse cx="1348" cy="812" rx="28" ry="27" fill="#7b878f"/>
<ellipse cx="1530" cy="690" rx="24" ry="26" fill="#7b878f"/>
<polygon points="1220,860 1315,892 1340,870 1338,890 1312,912 1222,882" fill="#59636a"/>
</g>
<g id="mWinj" class="m" transform="translate(2500,1130) scale(0.15823)">
<!-- legs / struts -->
<polygon points="740,690 870,800 720,1000 650,1090 600,1125 598,1080 650,900 790,790" fill="#c6c5b9" class="c"/>
<polygon points="598,1080 650,1060 760,1080 700,1140 600,1125" fill="#d2d1c6" class="c"/>
<polygon points="1250,1130 1400,1200 1455,1250 1300,1322 1240,1292 1290,1200" fill="#c9c8bc" class="c"/>
<polygon points="650,900 1000,985 1000,1050 650,962" fill="#d6d5ca" class="c"/>
<!-- upper barrel -->
<polygon points="160,318 225,326 225,348 160,336" fill="#d8d7cc" class="c"/>
<polygon points="225,322 300,318 655,300 662,372 540,402 300,388 225,352" fill="#d2d1c6" class="c"/>
<polygon points="225,322 300,318 655,300 657,325 300,345 225,336" fill="#e8e7de" class="c"/>
<polygon points="525,385 640,365 662,440 560,462 522,425" fill="#dddcd1" class="c"/>
<!-- lower barrel -->
<polygon points="205,455 270,462 270,490 205,471" fill="#d8d7cc" class="c"/>
<polygon points="270,455 340,440 700,585 690,700 340,530 270,500" fill="#d0cfc4" class="c"/>
<polygon points="270,455 340,440 700,585 697,622 338,470 270,475" fill="#e6e5dc" class="c"/>
<!-- upper unit -->
<polygon points="650,300 700,250 830,180 1080,150 1130,250 1320,240 1340,330 1280,400 1100,420 950,470 760,492 650,440" fill="#c9c8bc" class="c"/>
<polygon points="700,250 830,180 1080,150 1130,250 950,290 800,300" fill="#e0dfd5" class="c"/>
<polygon points="1130,250 1320,240 1340,330 1280,400 1160,400" fill="#b9b8ac" class="c"/>
<ellipse cx="1265" cy="320" rx="55" ry="65" fill="#a9a89c" class="c"/>
<polygon points="660,380 940,340 950,470 760,492 650,440" fill="#b4b3a7" class="c"/>
<!-- base plate -->
<polygon points="650,590 720,520 1250,490 1440,540 1540,600 1560,690 1200,780 900,722 650,642" fill="#d0cfc4" class="c"/>
<polygon points="720,520 1250,490 1440,540 1200,700 900,640" fill="#e2e1d7" class="c"/>
<polygon points="1000,560 1240,520 1400,560 1180,680" fill="#cfcec3" class="c"/>
<polygon points="780,470 960,440 1060,520 900,600 780,560" fill="#bebdb1" class="c"/>
<!-- main block -->
<polygon points="880,730 1200,780 1232,1000 1000,1062 880,902" fill="#c4c3b7" class="c"/>
<polygon points="940,760 1180,800 1190,900 960,880" fill="#d8d7cc" class="c"/>
<polygon points="1000,920 1200,960 1232,1000 1000,1062" fill="#b0afa3" class="c"/>
<!-- right assembly -->
<polygon points="1200,780 1560,690 1700,720 1900,780 2020,880 2052,1000 1960,1100 1800,1182 1700,1272 1550,1242 1240,1132 1232,1000" fill="#cccbbf" class="c"/>
<polygon points="1500,740 1700,720 1900,780 2020,880 1900,900 1700,820 1520,800" fill="#e0dfd5" class="c"/>
<polygon points="1260,880 1560,960 1560,1020 1260,940" fill="#e3e2d8" class="c"/>
<polygon points="1250,1080 1700,1200 1700,1272 1550,1242 1240,1132" fill="#dad9ce" class="c"/>
<polygon points="1560,860 1760,900 1800,1060 1640,1100 1560,1020" fill="#aeada1" class="c"/>
<polygon points="1800,900 2020,880 2052,1000 1960,1100 1840,1080" fill="#bbbaae" class="c"/>
<polygon points="1320,800 1480,760 1500,860 1340,900" fill="#a9a89c" class="c"/>
</g>
<g id="mH" class="m" transform="translate(2000,1740) scale(0.22355)">
<!-- ===== HL frame ===== -->
<g>
<!-- back-top bar (left part) -->
<polygon points="1565,228 2140,352 2130,437 1555,312" fill="#717c87"/>
<polygon points="1565,228 2140,352 2137,380 1562,256" fill="#8d97a1"/>
<!-- back-bottom bar left -->
<polygon points="1560,823 1822,880 1816,962 1555,907" fill="#6a7580"/>
<polygon points="1560,823 1822,880 1820,905 1558,848" fill="#838d97"/>
<!-- left injection unit -->
<polygon points="680,465 840,480 836,522 680,502" fill="#cfcec3" class="c"/>
<polygon points="540,540 700,580 692,622 540,592" fill="#c6c5ba" class="c"/>
<polygon points="590,478 955,540 950,622 580,542" fill="#d6d5ca" class="c"/>
<polygon points="590,478 955,540 953,568 588,505" fill="#e8e7de" class="c"/>
<polygon points="60,420 120,320 180,320 240,340 330,345 400,380 480,345 670,385 710,430 690,470 600,480 580,540 540,600 520,640 490,710 440,700 330,690 300,735 290,660 240,600 200,640 100,620 100,540 60,470" fill="#cbcabf" class="c"/>
<polygon points="120,320 180,320 240,340 330,345 400,380 480,345 670,385 710,430 600,440 420,420 260,440 180,400" fill="#e3e2d8" class="c"/>
<polygon points="250,470 500,440 520,600 300,640" fill="#d8d7cc" class="c"/>
<polygon points="300,600 500,580 520,640 490,710 440,700 330,690" fill="#b3b2a6" class="c"/>
<polygon points="60,420 180,400 200,640 100,620 100,540 60,470" fill="#bfbeb2" class="c"/>
<!-- side blocks -->
<polygon points="855,350 940,300 1050,320 965,390 965,550 860,540" fill="#68727d"/>
<polygon points="855,350 940,300 1050,320 965,390" fill="#7c8792"/>
<polygon points="850,950 930,890 962,900 965,1130 845,1130" fill="#68727d"/>
<!-- left platen -->
<polygon points="1195,150 1280,95 1400,110 1410,150 1300,180 1200,205" fill="#6d7883"/>
<polygon points="960,390 1100,300 1180,240 1200,200 1410,150 1620,195 1625,232 1200,447" fill="#7e8994"/>
<ellipse cx="1355" cy="240" rx="45" ry="20" fill="#69737e"/>
<ellipse cx="1225" cy="318" rx="45" ry="20" fill="#69737e"/>
<polygon points="960,390 1200,447 1215,1160 965,1100" fill="#707b86"/>
<polygon points="985,700 1030,700 1035,830 990,830" fill="#7e8994"/>
<polygon points="1200,447 1625,232 1620,900 1470,1000 1215,1160" fill="#555f69"/>
<ellipse cx="1410" cy="682" rx="30" ry="46" fill="#8d97a1"/>
<ellipse cx="1415" cy="688" rx="20" ry="32" fill="#646e79"/>
<polygon points="950,1130 1215,1160 1475,1190 1475,1282 1430,1302 1340,1282 1060,1216 950,1200" fill="#636d78"/>
<polygon points="1215,1160 1470,1000 1620,900 1810,940 1810,1010 1475,1190" fill="#5e6873"/>
</g>
<!-- ===== HR frame ===== -->
<g transform="translate(1789.3,0)">
<!-- back bars right -->
<polygon points="450,363 965,470 957,552 443,447" fill="#717c87"/>
<polygon points="450,363 965,470 962,497 447,390" fill="#8d97a1"/>
<polygon points="395,953 615,1000 610,1082 390,1037" fill="#6a7580"/>
<!-- base disc -->
<ellipse cx="240" cy="1215" rx="250" ry="115" fill="#5c6671"/>
<ellipse cx="240" cy="1180" rx="250" ry="110" fill="#76818c"/>
<!-- centre platen -->
<polygon points="340,290 380,265 470,285 482,352 440,420 340,400" fill="#6d7883"/>
<polygon points="130,530 340,400 440,420 200,572" fill="#7c8792"/>
<polygon points="0,490 60,480 130,520 130,592 0,562" fill="#6d7883"/>
<polygon points="30,690 110,600 130,1102 60,1092" fill="#737e89"/>
<polygon points="110,600 200,560 410,470 442,560 442,980 400,1042 130,1112" fill="#57616b"/>
<ellipse cx="285" cy="792" rx="28" ry="42" fill="#8d97a1"/>
<ellipse cx="289" cy="797" rx="18" ry="30" fill="#626c77"/>
</g>
<g>
<!-- front-top bar -->
<polygon points="1220,443 2415,690 2405,777 1213,533" fill="#737e89"/>
<polygon points="1220,443 2415,690 2412,718 1217,472" fill="#919ba5"/>
<polygon points="1740,538 1900,572 1892,690 1735,655" fill="#7d8893"/>
<!-- front-bottom bar -->
<polygon points="1220,1028 2405,1290 2398,1372 1213,1112" fill="#6f7a85"/>
<polygon points="1220,1028 2405,1290 2402,1318 1217,1056" fill="#8c96a0"/>
<polygon points="1735,1128 1800,1142 1792,1250 1730,1236" fill="#7d8893"/>
</g>
<g transform="translate(1789.3,0)">
<!-- right platen -->
<polygon points="615,670 990,430 1310,430 1230,500 880,700 840,722" fill="#7f8a95"/>
<ellipse cx="1010" cy="515" rx="48" ry="20" fill="#69737e"/>
<ellipse cx="880" cy="598" rx="48" ry="20" fill="#69737e"/>
<polygon points="615,670 840,722 862,1526 610,1482" fill="#6c7782"/>
<polygon points="700,940 750,950 752,1000 702,990" fill="#5a646e"/>
<polygon points="700,1120 750,1130 752,1190 702,1180" fill="#5a646e"/>
<polygon points="610,1440 850,1492 900,1470 900,1512 850,1562 610,1502" fill="#525b65"/>
<polygon points="838,722 1240,480 1277,500 1282,1200 1100,1332 858,1526" fill="#515b65"/>
<ellipse cx="1065" cy="992" rx="55" ry="102" fill="#7e8891"/>
<ellipse cx="1078" cy="975" rx="40" ry="80" fill="#5b656f"/>
<!-- cylinders -->
<polygon points="1200,500 1300,460 1400,470 1385,712 1300,702 1210,642" fill="#76818c"/>
<ellipse cx="1385" cy="590" rx="68" ry="120" transform="rotate(6 1385 590)" fill="#5c6671"/>
<polygon points="860,720 950,670 1050,670 1030,912 950,902 865,862" fill="#76818c"/>
<ellipse cx="1030" cy="790" rx="70" ry="122" transform="rotate(6 1030 790)" fill="#5c6671"/>
<polygon points="1195,1080 1290,1050 1385,1055 1375,1287 1290,1282 1200,1232" fill="#76818c"/>
<ellipse cx="1375" cy="1170" rx="64" ry="116" transform="rotate(6 1375 1170)" fill="#5c6671"/>
<polygon points="860,1300 950,1265 1045,1270 1035,1502 950,1492 860,1442" fill="#76818c"/>
<ellipse cx="1035" cy="1385" rx="68" ry="117" transform="rotate(6 1035 1385)" fill="#5c6671"/>
<!-- right injection unit -->
<polygon points="1085,955 1170,963 1170,1002 1090,977" fill="#d2d1c6" class="c"/>
<polygon points="1170,945 1240,940 1560,1010 1540,1102 1230,1022 1170,1006" fill="#d2d1c6" class="c"/>
<polygon points="1170,945 1240,940 1560,1010 1554,1040 1236,968 1170,972" fill="#e6e5dc" class="c"/>
<polygon points="1390,1060 1540,1090 1535,1132 1385,1097" fill="#c4c3b8" class="c"/>
<polygon points="1520,980 1620,975 1750,940 1990,1010 2100,1060 2165,1110 2172,1200 2100,1290 2013,1332 1950,1332 1800,1302 1780,1372 1740,1362 1730,1292 1580,1282 1530,1182" fill="#cbcabf" class="c"/>
<polygon points="1620,975 1750,940 1990,1010 2100,1060 2165,1110 2000,1120 1840,1060 1640,1030" fill="#e3e2d8" class="c"/>
<polygon points="1560,1040 1820,1090 1830,1220 1580,1200" fill="#d5d4c9" class="c"/>
<polygon points="1600,1200 1830,1230 1800,1302 1730,1292 1580,1282" fill="#b3b2a6" class="c"/>
<polygon points="1840,1100 2000,1130 2013,1332 1950,1332 1840,1300" fill="#bdbcb0" class="c"/>
</g>
</g>

<!-- connector lines -->
<g fill="none" stroke="#8097ba" stroke-width="2">
<polyline points="800,313.5 1184.5,313.5 1448,668"/>
<polyline points="163,2000 163,2072.5 1382,2072.5" stroke="#9fb3d2"/>
<polyline points="1776,2072.5 1827,2072.5 1611,1160"/>
</g>
<!-- center disc -->
<g id="disc">
<circle cx="1576" cy="967" r="207" fill="#55595f" opacity="0.55" filter="url(#shC)"/>
<circle cx="1567.5" cy="956.5" r="209" fill="url(#ringG)"/>
<circle cx="1568.5" cy="957.5" r="189" fill="#f4f4f5"/>
<circle cx="1568.5" cy="957.5" r="185.5" fill="url(#faceG)"/>
<polygon points="1423.7,961.6 1427,946.6 1520.5,946.6 1517.5,961.6" fill="#8fc31f"/>
<text class="sans" x="1433" y="979.3" font-size="94" font-weight="700" font-style="italic" fill="#002f6c" stroke="#002f6c" stroke-width="3" textLength="272" lengthAdjust="spacingAndGlyphs">FCS</text>
<polygon points="1420.7,964.6 1425,943.6 1523.5,943.6 1519.5,964.6" fill="#e9e9eb"/>
<polygon points="1423.7,961.6 1427,946.6 1520.5,946.6 1517.5,961.6" fill="#8fc31f"/>
<text class="sans" x="1434.6" y="1018.7" font-size="34" fill="#0b2f6b" stroke="#0b2f6b" stroke-width="0.5" textLength="262.6" lengthAdjust="spacingAndGlyphs">www.fcs.com.tw</text>
</g>
<!-- title -->
<g class="sans" font-weight="700" fill="#a3b9d9" font-size="62" stroke="#fff" stroke-width="1.8">
<text x="167" y="153" textLength="957" lengthAdjust="spacingAndGlyphs">Definition of injection pattern of</text>
<text x="161" y="240" textLength="793" lengthAdjust="spacingAndGlyphs">multi-component injection</text>
<text x="161" y="327" textLength="520" lengthAdjust="spacingAndGlyphs">molding machine</text>
</g>
<!-- panel labels -->
<g class="sans" fill="#fff" font-size="70" stroke="#e6e6ea" stroke-width="0.9">
<text x="783" y="571.7" textLength="361" lengthAdjust="spacingAndGlyphs">(Parallel)</text>
<text x="657.5" y="1337" textLength="488" lengthAdjust="spacingAndGlyphs">(Horizontal)</text>
<text x="2624" y="238.6" textLength="365" lengthAdjust="spacingAndGlyphs">(Vertical)</text>
<text x="2499" y="971" textLength="494" lengthAdjust="spacingAndGlyphs">(Piggyback)</text>
<text x="2551" y="1729.5" textLength="442" lengthAdjust="spacingAndGlyphs">(Opposite)</text>
</g>
<!-- captions -->
<g class="sans" font-weight="700" fill="#4f4b4c" font-size="50" stroke="#fff" stroke-width="1.3">
<text x="407" y="1062.5" textLength="749" lengthAdjust="spacingAndGlyphs">P-type (two-injection, parallel)</text>
<text x="413" y="1831" textLength="462" lengthAdjust="spacingAndGlyphs">L-type (right-angle</text>
<text x="415" y="1900" textLength="614" lengthAdjust="spacingAndGlyphs">two-injection, horizontal)</text>
<text x="2038" y="730" textLength="752" lengthAdjust="spacingAndGlyphs">V-type (sky-side two-injection,</text>
<text x="2038" y="802.6" textLength="198" lengthAdjust="spacingAndGlyphs">vertical)</text>
<text x="2053" y="1474" textLength="681" lengthAdjust="spacingAndGlyphs">W-type (back two-injection,</text>
<text x="2050" y="1547" textLength="276" lengthAdjust="spacingAndGlyphs">piggyback)</text>
<text x="2043" y="2219" textLength="772" lengthAdjust="spacingAndGlyphs">H-type (opposite two-injection,</text>
<text x="2045" y="2291" textLength="235" lengthAdjust="spacingAndGlyphs">opposite)</text>
</g>
<!-- thin text -->
<g class="thin" fill="#9db5d8" font-size="47">
<text x="1350" y="1931.4" textLength="406" lengthAdjust="spacingAndGlyphs">Multi-component</text>
<text x="1336" y="2002" textLength="426" lengthAdjust="spacingAndGlyphs">molding technical</text>
<text x="1435" y="2072.4" textLength="234" lengthAdjust="spacingAndGlyphs">solutions.</text>
</g>
<!-- badges -->
<g id="badges">
<g fill="#5a4a48" opacity="0.55" filter="url(#shB)" transform="translate(7,8)">
<polygon points="183.8,897 267,851.7 351,897 351,1061.5 183.8,1061.5"/>
<polygon points="183.5,1673 266.7,1628 351,1673 351,1837 183.5,1837"/>
<polygon points="2827.6,576.5 2911.8,529.7 2994,576.5 2994,739.2 2827.6,739.2"/>
<polygon points="2827.6,1321 2911.8,1274 2994,1321 2994,1484.7 2827.6,1484.7"/>
<polygon points="2827.6,2066 2911.8,2019 2994,2066 2994,2229.7 2827.6,2229.7"/>
</g>
<g fill="#a6bddc">
<polygon points="183.8,897 267,851.7 351,897 351,1061.5 183.8,1061.5"/>
<polygon points="183.5,1673 266.7,1628 351,1673 351,1837 183.5,1837"/>
<polygon points="2827.6,576.5 2911.8,529.7 2994,576.5 2994,739.2 2827.6,739.2"/>
<polygon points="2827.6,1321 2911.8,1274 2994,1321 2994,1484.7 2827.6,1484.7"/>
<polygon points="2827.6,2066 2911.8,2019 2994,2066 2994,2229.7 2827.6,2229.7"/>
</g>
<g class="serif" font-weight="700" fill="#fff" font-size="133" text-anchor="middle">
<text x="265.6" y="1014.3" textLength="85" lengthAdjust="spacingAndGlyphs">P</text>
<text x="265" y="1801" textLength="85" lengthAdjust="spacingAndGlyphs">L</text>
<text x="2911.8" y="698.7" textLength="82" lengthAdjust="spacingAndGlyphs">V</text>
<text x="2910.4" y="1461" textLength="124" lengthAdjust="spacingAndGlyphs">W</text>
<text x="2915.6" y="2192" textLength="102" lengthAdjust="spacingAndGlyphs">H</text>
</g>
</g>

</svg>
</body></html>
